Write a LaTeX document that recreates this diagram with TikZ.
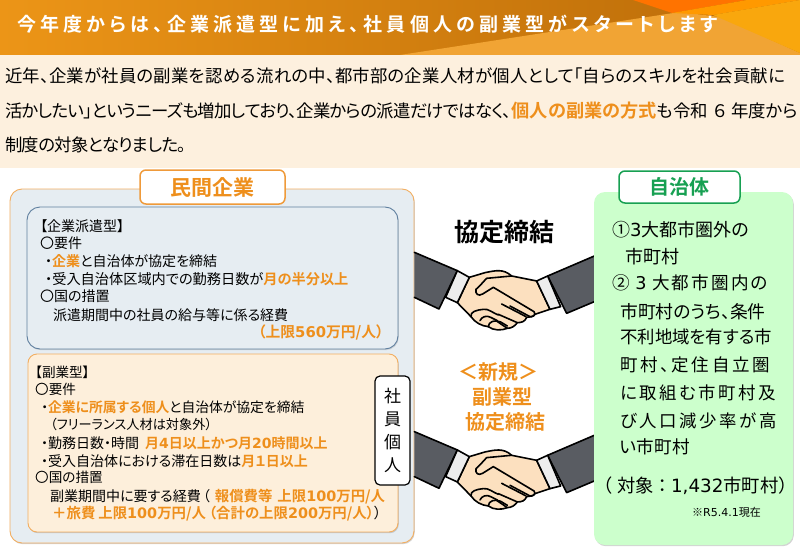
\documentclass[tikz,border=0pt]{standalone}
\usepackage{fontspec}
\usetikzlibrary{shadows}
\setmainfont[BoldFont={Noto Sans CJK JP Bold},RawFeature=+palt]{Noto Sans CJK JP}
\newfontfamily\vdfont{DejaVu Sans}
\definecolor{ogt}{HTML}{EE8F1C}
\definecolor{ogb}{HTML}{EF9A3A}
\definecolor{grn}{HTML}{17A052}
\definecolor{slv}{HTML}{595C62}
\definecolor{skn}{HTML}{FCE0BF}
\definecolor{pale}{HTML}{E6EDF2}
\definecolor{band}{HTML}{FDF0DE}
\definecolor{pch}{HTML}{FDEFDB}
\definecolor{bnl}{HTML}{EC9517}
\definecolor{bnr}{HTML}{B96A08}
\definecolor{bbl}{HTML}{5F7F9F}
\newcommand\og[1]{{\color{ogt}\bfseries #1}}
\newcommand\vd[1]{{\vdfont #1}}
\newcommand\fs[1]{\fontsize{#1pt}{#1pt}\selectfont}
\newcommand\ls[1]{\addfontfeature{LetterSpace=#1}}
% name, x, centre y, size, text
\newcommand\tl[5]{\node[anchor=base west,inner sep=0pt,font=\fs{#4}] (#1) at (#2,{#3+0.36*#4}) {#5};}
\newcommand\panel[6]{\node[#2,inner sep=0pt,minimum width={(#5-#3)*1pt},minimum height={(#6-#4)*1pt}] (#1) at ({(#3+#5)/2},{(#4+#6)/2}) {};}
\newcommand\handshake[3]{%
\begin{scope}[shift={(370,#1)},x=0.3333pt,y=-0.3333pt,line width=1.6pt,line join=round,line cap=round]
\path[draw=none,fill=slv] (#2,157) -- (#2,292) -- (207,327) -- (262,212) -- cycle;
\path[draw=none,fill=slv] (#3,168) -- (#3,305) -- (590,340) -- (533,228) -- cycle;
\draw (#2,157) -- (262,212) -- (207,327) -- (#2,292);
\draw (#3,168) -- (533,228) -- (590,340) -- (#3,305);
\path[fill=skn,draw=black] (298,232) -- (345,218) .. controls (375,212) and (400,205) .. (425,228) -- (500,243) -- (540,328) -- (495,343)
  .. controls (492,350) and (480,352) .. (470,352) .. controls (465,365) and (455,368) .. (442,368)
  .. controls (435,378) and (425,385) .. (412,385) .. controls (395,392) and (370,392) .. (355,380)
  .. controls (335,378) and (315,368) .. (303,350) -- (262,308) -- cycle;
\path[fill=white!93!black,draw=black] (262,212) -- (298,232) -- (262,308) -- (227,292) -- cycle;
\path[fill=white!93!black,draw=black] (500,243) -- (533,228) -- (572,320) -- (540,328) -- cycle;
\path[fill=skn,draw=black] (425,228) -- (350,235) .. controls (340,245) and (330,258) .. (318,268) .. controls (315,282) and (325,290) .. (338,282) -- (370,262) -- (492,335) .. controls (498,342) and (492,350) .. (480,350) -- (420,318);
\draw (468,350) .. controls (440,335) and (410,320) .. (395,312);
\draw (442,368) -- (385,343);
\draw (412,385) -- (378,362);
\draw (303,350) .. controls (300,335) and (320,330) .. (340,328) .. controls (355,325) and (370,340) .. (385,345);
\draw (330,362) .. controls (335,350) and (350,345) .. (362,352) -- (382,362);
\draw (355,380) .. controls (355,365) and (375,358) .. (392,366) -- (412,378);
\end{scope}}
\begin{document}
\begin{tikzpicture}[x=1pt,y=-1pt,
  bigbox/.style={rounded corners=12pt,fill=pale,draw=ogb!80,line width=0.9pt,drop shadow={shadow xshift=0.8pt,shadow yshift=-1.2pt,opacity=.35}},
  bluebox/.style={rounded corners=13pt,fill=pale,draw=bbl,line width=0.9pt,drop shadow={shadow xshift=0.8pt,shadow yshift=-1.2pt,opacity=.25}},
  pchbox/.style={rounded corners=9pt,fill=pch,draw=ogb!80,line width=0.9pt,drop shadow={shadow xshift=0.8pt,shadow yshift=-1.2pt,opacity=.35}},
  grnbox/.style={rounded corners=11pt,fill=green!20,draw=none,drop shadow={shadow xshift=0.8pt,shadow yshift=-1.2pt,opacity=.35}},
  olabel/.style={rounded corners=6pt,fill=white,draw=ogb,line width=1.5pt},
  glabel/.style={rounded corners=6pt,fill=white,draw=grn,line width=1.5pt},
  sidebox/.style={rounded corners=5pt,fill=white,draw=black,line width=1.2pt}]
\useasboundingbox (0,0) rectangle (800,546);
% banner
\fill[left color=bnl,right color=bnr] (0,0) rectangle (800,55);
\fill[ogb!90!yellow] (400,55) -- (680,12) -- (720,17) -- (800,53) -- (800,55) -- cycle;
\fill[orange!90!red] (633,0) -- (747,0) -- (672,13) -- cycle;
\fill[orange!80!yellow] (747,0) -- (800,0) -- (713,15) -- (672,13) -- cycle;
\fill[yellow!30!orange] (713,15) -- (800,0) -- (800,53) -- cycle;
\fill[band] (0,55) rectangle (800,168);
\tl{title}{17}{24.5}{19}{\bfseries\color{white}\ls{22}今年度からは、企業派遣型に加え、社員個人の副業型がスタートします}
\tl{b1}{5}{76}{17.4}{\ls{1.2}近年、企業が社員の副業を認める流れの中、都市部の企業人材が個人として「自らのスキルを社会貢献に}
\tl{b2}{5}{111}{17.4}{{\ls{-4}活かしたい」というニーズも増加しており、企業からの派遣だけではなく、}{\fs{18.2}\og{個人の副業の方式}}も令和\hspace{5pt}６\hspace{5pt}年度から}
\tl{b3}{5}{145}{17.4}{\ls{-4}制度の対象となりました。}
% left
\panel{big}{bigbox}{10}{189}{414}{543}
\panel{blue}{bluebox}{27}{207}{398}{349}
\panel{pch}{pchbox}{28}{354}{398}{532}
\panel{lab1}{olabel}{140}{170}{285}{204}
\node[font=\fs{21}\bfseries,text=ogt,inner sep=0pt] (lab1t) at (lab1.center) {民間企業};
\tl{a1}{40}{226}{14}{【企業派遣型】}
\tl{a2}{40}{243}{14}{〇要件}
\tl{a3}{45}{261}{14}{・\og{企業}と自治体が協定を締結}
\tl{a4}{45}{279}{14.2}{・受入自治体区域内での勤務日数が\og{月の半分以上}}
\tl{a5}{40}{296}{14}{〇国の措置}
\tl{a6}{53}{315}{14}{派遣期間中の社員の給与等に係る経費}
\tl{a7}{258}{332}{14.8}{\og{（上限\vd{560}万円/人）}}
\tl{c1}{35}{373}{13.6}{【副業型】}
\tl{c2}{35}{390}{13.6}{〇要件}
\tl{c3}{41}{408}{13.8}{・\og{企業に所属する個人}と自治体が協定を締結}
\tl{c4}{50}{425}{13.2}{（フリーランス人材は対象外）}
\tl{c5}{41}{443}{14}{・勤務日数・時間\hspace{6pt}\og{月\vd{4}日以上かつ月\vd{20}時間以上}}
\tl{c6}{41}{461}{14}{・受入自治体における滞在日数は\og{月１日以上}}
\tl{c7}{35}{478}{13.6}{〇国の措置}
\tl{c8}{50}{496}{14}{副業期間中に要する経費\hspace{2pt}（\hspace{5pt}{\fs{14.4}\og{報償費等\hspace{5pt}上限\vd{100}万円/人}}}
\tl{c9}{52}{513}{14.4}{\og{＋旅費\hspace{3pt}上限\vd{100}万円/人\hspace{3pt}（合計の上限\vd{200}万円/人）}）}
% handshakes
\handshake{200}{133}{673}
\handshake{379.3}{133}{673}
\panel{side}{sidebox}{375}{376}{410}{485}
\node[font=\fs{17},inner sep=0pt,align=center] (sidet) at (side.center) {社\\[5.8pt]員\\[5.8pt]個\\[5.8pt]人};
\node[font=\fs{25}\bfseries,inner sep=0pt] (kk) at (504,232) {協定締結};
\node[font=\fs{20}\bfseries,text=ogt,inner sep=0pt] (nw) at (498,372) {＜新規＞};
\node[font=\fs{20}\bfseries,text=ogt,inner sep=0pt] (fk) at (502,397) {副業型};
\node[font=\fs{20}\bfseries,text=ogt,inner sep=0pt] (fk2) at (505,422) {協定締結};
% right
\panel{gr}{grnbox}{594}{192}{793}{545}
\panel{lab2}{glabel}{619}{171}{740}{203}
\node[font=\fs{20}\bfseries,text=grn,inner sep=0pt] (lab2t) at (lab2.center) {自治体};
\tl{g1}{612}{230}{18}{①\vd{3}大都市圏外の}
\tl{g2}{625}{257}{18}{市町村}
\tl{g3}{612}{283}{17.6}{\ls{12}②\vd{ 3 }大都市圏内の}
\tl{g4}{620}{312}{17.8}{市町村のうち、条件}
\tl{g5}{620}{337}{17.4}{不利地域を有する市}
\tl{g6}{620}{365}{17.5}{\ls{15}町村、定住自立圏}
\tl{g7}{620}{393}{17.4}{\ls{15}に取組む市町村及}
\tl{g8}{620}{421}{17.4}{\ls{15}び人口減少率が高}
\tl{g9}{620}{447}{17.6}{い市町村}
\tl{g10}{603}{486}{18.3}{（\hspace{5pt}対象\hspace{4pt}：\hspace{4pt}\vd{1,432}市町村\hspace{1pt}）}
\tl{g11}{692}{513}{11}{※\vd{R5.4.1}現在}
\end{tikzpicture}
\end{document}
